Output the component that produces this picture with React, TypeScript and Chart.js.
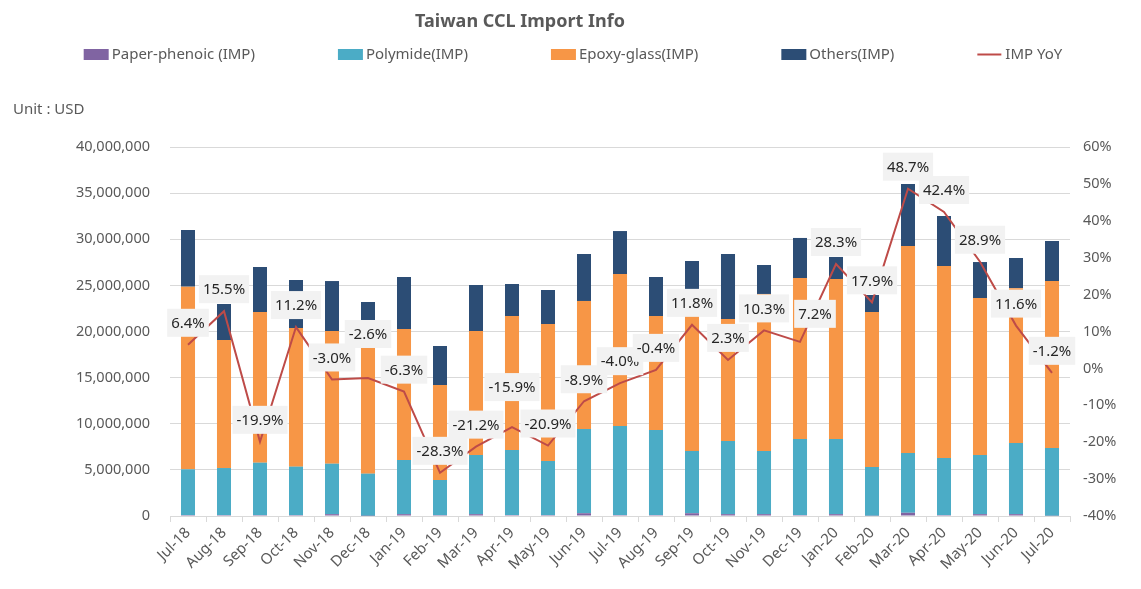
import React, { useEffect, useRef } from 'react';
import { Chart, registerables } from 'chart.js';

Chart.register(...registerables);

const FONT = '"Noto Sans", "Open Sans", "DejaVu Sans", sans-serif';

// ---- Data ----
const months = [
  'Jul-18', 'Aug-18', 'Sep-18', 'Oct-18', 'Nov-18', 'Dec-18', 'Jan-19', 'Feb-19', 'Mar-19',
  'Apr-19', 'May-19', 'Jun-19', 'Jul-19', 'Aug-19', 'Sep-19', 'Oct-19', 'Nov-19', 'Dec-19',
  'Jan-20', 'Feb-20', 'Mar-20', 'Apr-20', 'May-20', 'Jun-20', 'Jul-20',
];

const paperPhenoic = [
  100000, 100000, 100000, 100000, 200000, 20000, 200000, 100000, 200000,
  100000, 100000, 300000, 100000, 100000, 300000, 200000, 200000, 100000,
  200000, 30000, 350000, 100000, 200000, 200000, 30000,
];

const polymide = [
  4960000, 5100000, 5680000, 5250000, 5470000, 4570000, 5870000, 3800000, 6410000,
  7050000, 5860000, 9130000, 9660000, 9220000, 6750000, 7930000, 6850000, 8250000,
  8150000, 5280000, 6480000, 6190000, 6410000, 7710000, 7340000,
];

const epoxyGlass = [
  19800000, 13880000, 16330000, 15030000, 14380000, 13620000, 14200000, 10300000, 13440000,
  14530000, 14850000, 13880000, 16470000, 12360000, 17560000, 13230000, 17020000, 17450000,
  17340000, 16800000, 22440000, 20810000, 17020000, 16790000, 18100000,
];

const others = [
  6140000, 3900000, 4880000, 5200000, 5420000, 4990000, 5640000, 4230000, 4990000,
  3470000, 3690000, 5090000, 4660000, 4230000, 3030000, 7040000, 3140000, 4340000,
  2390000, 1850000, 6720000, 5420000, 3900000, 3270000, 4340000,
];

const impYoY = [
  6.4, 15.5, -19.9, 11.2, -3.0, -2.6, -6.3, -28.3, -21.2,
  -15.9, -20.9, -8.9, -4.0, -0.4, 11.8, 2.3, 10.3, 7.2,
  28.3, 17.9, 48.7, 42.4, 28.9, 11.6, -1.2,
];

const leftAxis = { min: 0, max: 40000000, step: 5000000 };
const rightAxis = { min: -40, max: 60, step: 10 };

// ---- Styling ----
const COLORS = {
  paper: '#8064A2',
  poly: '#4BACC6',
  epoxy: '#F79646',
  others: '#2C4D75',
  yoy: '#BE4B48',
  grid: '#D9D9D9',
  axisText: '#595959',
};

// manual label nudges (dx right, dy extra up), like hand-moved Excel labels
const labelNudge: Record<number, { dx: number; dy: number }> = {
  5: { dx: 0, dy: 22 },
  9: { dx: 0, dy: 18 },
  17: { dx: 15, dy: 6 },
};

const overlayPlugin = {
  id: 'overlay',
  afterDatasetsDraw(chart: any) {
    const ctx = chart.ctx as CanvasRenderingContext2D;
    const meta = chart.getDatasetMeta(4);
    ctx.save();
    ctx.font = `15px ${FONT}`;
    ctx.textAlign = 'center';
    ctx.textBaseline = 'middle';
    meta.data.forEach((pt: any, i: number) => {
      const n = labelNudge[i] || { dx: 0, dy: 0 };
      const text = impYoY[i].toFixed(1) + '%';
      const w = ctx.measureText(text).width + 8;
      const h = 28;
      const cx = pt.x + n.dx;
      const cy = pt.y - 22 - n.dy;
      ctx.fillStyle = '#F2F2F2';
      ctx.fillRect(cx - w / 2, cy - h / 2, w, h);
      ctx.fillStyle = '#262626';
      ctx.fillText(text, cx, cy + 1);
    });
    ctx.restore();
  },
  afterDraw(chart: any) {
    const ctx = chart.ctx as CanvasRenderingContext2D;
    ctx.save();
    // Title
    ctx.font = `bold 18px ${FONT}`;
    ctx.fillStyle = COLORS.axisText;
    ctx.textAlign = 'center';
    ctx.textBaseline = 'alphabetic';
    ctx.fillText('Taiwan CCL Import Info', 512, 19);

    // Unit
    ctx.font = `15px ${FONT}`;
    ctx.textAlign = 'left';
    ctx.fillText('Unit : USD', 5, 106);

    // Legend
    const items = chart.data.datasets.map((ds: any) => ({
      label: ds.label as string,
      color: (ds.type === 'line' ? ds.borderColor : ds.backgroundColor) as string,
      isLine: ds.type === 'line',
    }));
    ctx.font = `15px ${FONT}`;
    const gapItem = 83;
    const boxW = 25;
    const gapText = 3;
    const widths = items.map((it: any) => boxW + gapText + ctx.measureText(it.label).width);
    const total = widths.reduce((a: number, b: number) => a + b, 0) + gapItem * (items.length - 1);
    let x = 565 - total / 2;
    const baseY = 51;
    items.forEach((it: any, i: number) => {
      if (it.isLine) {
        ctx.strokeStyle = it.color;
        ctx.lineWidth = 2;
        ctx.beginPath();
        ctx.moveTo(x, 46.5);
        ctx.lineTo(x + boxW - 1, 46.5);
        ctx.stroke();
      } else {
        ctx.fillStyle = it.color;
        ctx.fillRect(x, 41, boxW, 11);
      }
      ctx.fillStyle = COLORS.axisText;
      ctx.fillText(it.label, x + boxW + gapText, baseY);
      x += widths[i] + gapItem;
    });
    ctx.restore();
  },
};

export default function App() {
  const canvasRef = useRef<HTMLCanvasElement | null>(null);

  useEffect(() => {
    if (!canvasRef.current) return;
    Chart.defaults.font.family = FONT;
    const barCommon = {
      type: 'bar' as const,
      stack: 'imp',
      yAxisID: 'y',
      borderWidth: 0,
      categoryPercentage: 1,
      barPercentage: 0.39,
      order: 1,
    };
    const chart = new Chart(canvasRef.current, {
      type: 'bar',
      data: {
        labels: months,
        datasets: [
          { ...barCommon, label: 'Paper-phenoic (IMP)', data: paperPhenoic, backgroundColor: COLORS.paper },
          { ...barCommon, label: 'Polymide(IMP)', data: polymide, backgroundColor: COLORS.poly },
          { ...barCommon, label: 'Epoxy-glass(IMP)', data: epoxyGlass, backgroundColor: COLORS.epoxy },
          { ...barCommon, label: 'Others(IMP)', data: others, backgroundColor: COLORS.others },
          {
            type: 'line' as const,
            label: 'IMP YoY',
            data: impYoY,
            yAxisID: 'y1',
            borderColor: COLORS.yoy,
            backgroundColor: COLORS.yoy,
            borderWidth: 2,
            pointRadius: 0,
            tension: 0,
            order: 0,
          } as any,
        ],
      },
      options: {
        animation: false,
        responsive: true,
        maintainAspectRatio: false,
        layout: { padding: { top: 139, left: 0, right: 0, bottom: 0 } },
        plugins: {
          legend: { display: false },
          title: { display: false },
          tooltip: { enabled: false },
        },
        scales: {
          x: {
            stacked: true,
            grid: {
              display: true,
              drawOnChartArea: false,
              offset: true,
              tickLength: 6,
              color: COLORS.grid,
            },
            border: { color: COLORS.grid },
            ticks: {
              minRotation: 45,
              maxRotation: 45,
              autoSkip: false,
              color: COLORS.axisText,
              font: { size: 15, family: FONT },
              padding: 2,
            },
            afterFit: (s: any) => { s.height = 65; },
          },
          y: {
            stacked: true,
            position: 'left',
            min: leftAxis.min,
            max: leftAxis.max,
            grid: { color: COLORS.grid, drawTicks: false },
            border: { display: false },
            ticks: {
              stepSize: leftAxis.step,
              padding: 20,
              color: COLORS.axisText,
              font: { size: 14.5, family: FONT },
              callback: (v: any) => Number(v).toLocaleString('en-US'),
            },
            afterFit: (s: any) => { s.width = 162; },
          },
          y1: {
            position: 'right',
            min: rightAxis.min,
            max: rightAxis.max,
            grid: { display: false, drawTicks: false },
            border: { display: false },
            ticks: {
              stepSize: rightAxis.step,
              padding: 13,
              color: COLORS.axisText,
              font: { size: 14.5, family: FONT },
              callback: (v: any) => `${v}%`,
            },
            afterFit: (s: any) => { s.width = 63; },
          },
        },
      },
      plugins: [overlayPlugin],
    } as any);
    return () => chart.destroy();
  }, []);

  return (
    <div style={{ position: 'relative', width: 1125, height: 573 }}>
      <canvas ref={canvasRef} />
    </div>
  );
}
